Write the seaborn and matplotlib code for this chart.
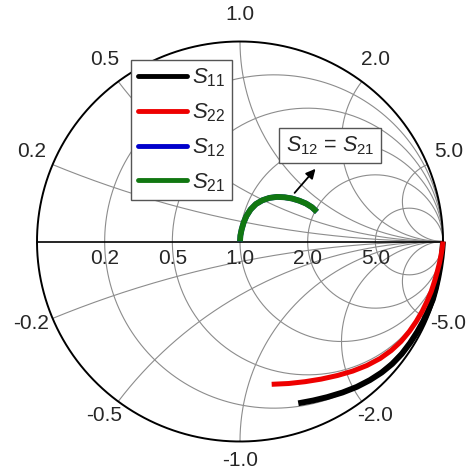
import numpy as np
import pandas as pd
import seaborn as sns
import matplotlib.pyplot as plt
from matplotlib.lines import Line2D

sns.set_style('white')
plt.rcParams['font.family'] = ['Liberation Sans', 'DejaVu Sans']
plt.rcParams['mathtext.fontset'] = 'custom'
plt.rcParams['mathtext.rm'] = 'Liberation Sans'
plt.rcParams['mathtext.it'] = 'Liberation Sans:italic'

# smith chart grid values
r_values = [0.2, 0.5, 1.0, 2.0, 5.0]
x_values = [0.2, 0.5, 1.0, 2.0, 5.0]
r_labels = ['0.2', '0.5', '1.0', '2.0', '5.0']
x_pos_labels = ['0.2', '0.5', '1.0', '2.0', '5.0']
x_neg_labels = ['-0.2', '-0.5', '-1.0', '-2.0', '-5.0']

s11_re = [1.000, 0.997, 0.993, 0.986, 0.977, 0.965, 0.950, 0.928, 0.903, 0.873,
          0.838, 0.797, 0.750, 0.698, 0.640, 0.575, 0.505, 0.430, 0.360, 0.287]
s11_im = [0.000, -0.040, -0.080, -0.130, -0.180, -0.235, -0.290, -0.344, -0.398, -0.452,
          -0.507, -0.562, -0.612, -0.655, -0.693, -0.727, -0.755, -0.778, -0.795, -0.809]

s22_re = [1.000, 0.996, 0.990, 0.982, 0.972, 0.958, 0.942, 0.921, 0.897, 0.868, 0.834,
          0.793, 0.745, 0.690, 0.625, 0.555, 0.480, 0.400, 0.320, 0.240, 0.156]
s22_im = [0.000, -0.035, -0.070, -0.110, -0.150, -0.200, -0.250, -0.300, -0.350, -0.400, -0.450,
          -0.500, -0.545, -0.585, -0.620, -0.648, -0.670, -0.688, -0.701, -0.710, -0.714]

# S12 and S21 are identical
s21_re = [0.000, 0.002, 0.008, 0.018, 0.032, 0.052, 0.078, 0.110, 0.145, 0.182,
          0.220, 0.256, 0.292, 0.325, 0.355, 0.379]
s21_im = [0.000, 0.030, 0.060, 0.095, 0.128, 0.160, 0.187, 0.206, 0.218, 0.223,
          0.221, 0.215, 0.204, 0.190, 0.171, 0.148]
s12_re = list(s21_re)
s12_im = list(s21_im)

fig = plt.figure(figsize=(4.74, 4.74), dpi=100)
ax = fig.add_axes([6.55 / 474, 2.5 / 474, 466.9 / 474, 460 / 474])
ax.set_xlim(-1.15, 1.15)
ax.set_ylim(-1.15, 1.15)
ax.axis('off')

grid_kw = dict(color='#8c8c8c', lw=0.8, zorder=1)

# constant resistance circles
t = np.linspace(0, 2 * np.pi, 400)
for r in r_values:
    c = r / (1 + r)
    rad = 1 / (1 + r)
    ax.plot(c + rad * np.cos(t), rad * np.sin(t), **grid_kw)

# constant reactance arcs
rr = np.concatenate([[0], np.logspace(-3, 4, 600)])
for x in x_values:
    for s in (1, -1):
        z = rr + 1j * s * x
        g = (z - 1) / (z + 1)
        ax.plot(g.real, g.imag, **grid_kw)

# outer circle and real axis
ax.plot(np.cos(t), np.sin(t), color='black', lw=1.4, zorder=2)
ax.plot([-1, 1], [0, 0], color='black', lw=1.2, zorder=2)

# labels
for r, lab in zip(r_values, r_labels):
    ax.text((r - 1) / (r + 1), -0.035, lab, ha='center', va='top', fontsize=15)
for x, lp, ln in zip(x_values, x_pos_labels, x_neg_labels):
    g = (1j * x - 1) / (1j * x + 1)
    ax.text(1.1125 * g.real, 1.1125 * g.imag + 0.02, lp, ha='center', va='center', fontsize=15)
    ax.text(1.1125 * g.real, -1.1125 * g.imag + 0.02, ln, ha='center', va='center', fontsize=15)

traces = [
    ('$S_{11}$', s11_re, s11_im, 'black', 4.2),
    ('$S_{22}$', s22_re, s22_im, '#ee0000', 3.6),
    ('$S_{12}$', s12_re, s12_im, '#0000cc', 4.0),
    ('$S_{21}$', s21_re, s21_im, '#117711', 4.2),
]
for name, re, im, col, lw in traces:
    df = pd.DataFrame({'re': re, 'im': im})
    sns.lineplot(data=df, x='re', y='im', sort=False, estimator=None,
                 color=col, lw=lw, ax=ax, zorder=3, solid_capstyle='butt')
ax.set_xlabel('')
ax.set_ylabel('')

handles = [Line2D([], [], color=col, lw=3.5) for _, _, _, col, _ in traces]
labels = [name for name, _, _, _, _ in traces]
leg = ax.legend(handles, labels, loc='upper left',
                bbox_to_anchor=(131 / 474, 1 - 60 / 474), bbox_transform=fig.transFigure,
                frameon=True, fancybox=False, framealpha=1, edgecolor='#555555',
                fontsize=16, handlelength=2.2, handletextpad=0.25,
                labelspacing=0.55, borderpad=0.3, borderaxespad=0)
leg.get_frame().set_linewidth(1.0)

ax.text(0.443, 0.48, '$S_{12}$ = $S_{21}$', ha='center', va='center', fontsize=15.5,
        bbox=dict(boxstyle='square,pad=0.3', fc='white', ec='#555555', lw=1.0), zorder=5)
ax.annotate('', xy=(0.381, 0.374), xytext=(0.260, 0.2325),
            arrowprops=dict(arrowstyle='-|>', color='black', lw=1.3, mutation_scale=14),
            zorder=5)

fig.savefig('out.png', dpi=100)
